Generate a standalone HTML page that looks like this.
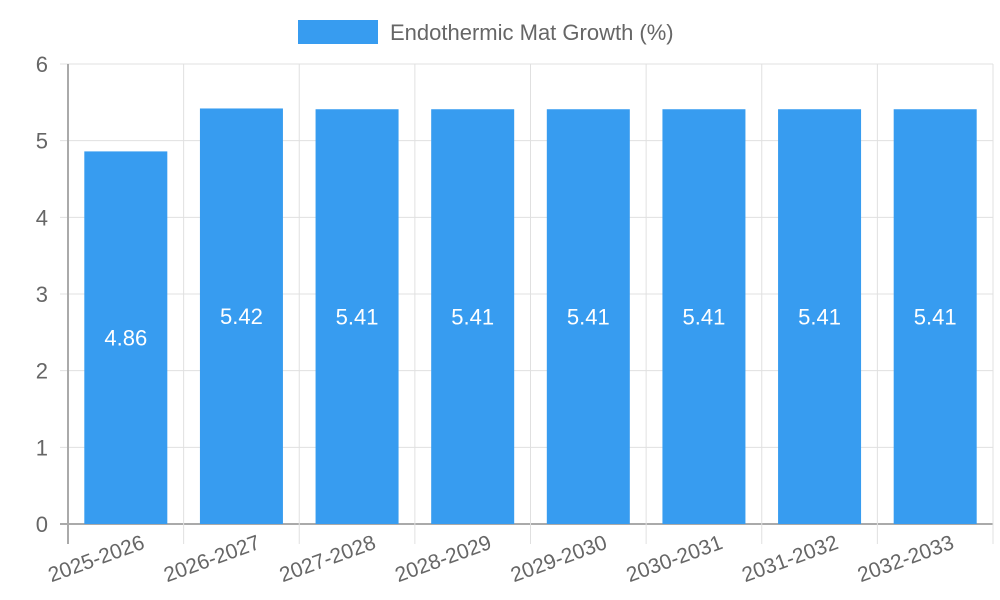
<!DOCTYPE html>
<html><head><meta charset="utf-8"><style>
html,body{margin:0;padding:0;background:#fff;}
svg{display:block;font-family:"Liberation Sans",sans-serif;}
</style></head><body>
<svg id="chart" width="1000" height="600" viewBox="0 0 1000 600">
<g id="legend">
<rect x="298" y="20" width="80" height="24" fill="#379cf0"/>
<text x="390" y="40" font-size="22" fill="#666">Endothermic Mat Growth (%)</text>
</g>
<g id="grid"></g><g id="bars"></g><g id="labels"></g>
</svg>
<script>
const categories=["2025-2026","2026-2027","2027-2028","2028-2029","2029-2030","2030-2031","2031-2032","2032-2033"];
const values=[4.86,5.42,5.41,5.41,5.41,5.41,5.41,5.41];
const yTicks=[0,1,2,3,4,5,6];
const NS="http://www.w3.org/2000/svg";
const L=68,R=993,T=64,B=524,yMax=6;
const bw=(R-L)/categories.length;
const y=v=>B-(v/yMax)*(B-T);
const xc=i=>L+bw*(i+0.5);
function mk(tag,attrs,parent){const e=document.createElementNS(NS,tag);for(const k in attrs)e.setAttribute(k,attrs[k]);parent.appendChild(e);return e;}
const grid=document.getElementById('grid'),bars=document.getElementById('bars'),labels=document.getElementById('labels');
yTicks.forEach(t=>{
 const ln=mk('line',{x1:L-8,x2:R,y1:y(t),y2:y(t),stroke:t===0?'#aaa':'#e0e0e0','stroke-width':t===0?2:1},grid);
 
 
 const tx=mk('text',{x:L-20,y:y(t)+8,'text-anchor':'end','font-size':22,fill:'#666'},grid);
 tx.textContent=t;
 
 
});
for(let i=0;i<=categories.length;i++){
 const x=L+bw*i;
 const ln=mk('line',{x1:x,x2:x,y1:T,y2:B+20,stroke:i===0?'#aaa':'#e0e0e0','stroke-width':i===0?2:1},grid);
 
 
}
categories.forEach((c,i)=>{
 const w=83;
 const r=mk('rect',{x:xc(i)-w/2,y:y(values[i]),width:w,height:B-y(values[i]),fill:'#379cf0'},bars);
 
 
 const v=mk('text',{x:xc(i),y:(y(values[i])+B)/2+8,'text-anchor':'middle','font-size':22,fill:'#fff'},labels);
 v.textContent=values[i].toFixed(2);
 
 
 const cx=xc(i)+20,cy=548;
 const t=mk('text',{x:cx,y:cy,'text-anchor':'end','font-size':21,fill:'#666',transform:`rotate(-20 ${cx} ${cy})`},labels);
 t.textContent=c;
 
 
});
</script>
</body></html>
